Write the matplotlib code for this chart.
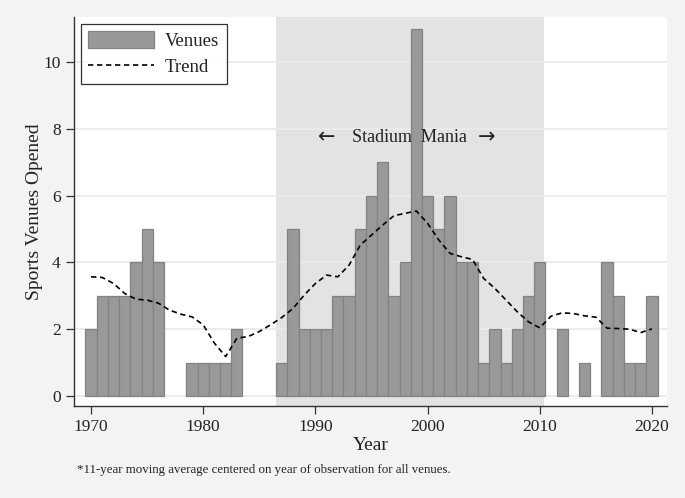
import matplotlib
matplotlib.use("Agg")
import matplotlib.pyplot as plt
from matplotlib.patches import Patch
from matplotlib.lines import Line2D

years = list(range(1970, 2021))
venues = [2, 3, 3, 3, 4, 5, 4, 0, 0, 1,
          1, 1, 1, 2, 0, 0, 0, 1, 5, 2,
          2, 2, 3, 3, 5, 6, 7, 3, 4, 11,
          6, 5, 6, 4, 4, 1, 2, 1, 2, 3,
          4, 0, 2, 0, 1, 0, 4, 3, 1, 1,
          3]
trend = [3.57, 3.55, 3.37, 3.07, 2.90, 2.87, 2.78, 2.57, 2.45, 2.37,
         2.13, 1.58, 1.18, 1.73, 1.78, 1.93, 2.13, 2.35, 2.62, 3.02,
         3.37, 3.62, 3.57, 3.92, 4.52, 4.82, 5.12, 5.40, 5.47, 5.54,
         5.17, 4.67, 4.27, 4.17, 4.09, 3.52, 3.22, 2.87, 2.52, 2.22,
         2.04, 2.39, 2.49, 2.47, 2.40, 2.36, 2.03, 2.02, 2.00, 1.90,
         2.01]
mania_start, mania_end = 1986.5, 2010.4
yticks = [0, 2, 4, 6, 8, 10]
xticks = [1970, 1980, 1990, 2000, 2010, 2020]

serif = ['Liberation Serif', 'DejaVu Serif']
plt.rcParams['font.family'] = serif

fig = plt.figure(figsize=(6.85, 4.98), dpi=100)
fig.patch.set_facecolor('#f3f3f3')
ax = fig.add_axes([74/685, 1-406/498, (667-74)/685, (406-17)/498])
ax.set_facecolor('white')

ax.axvspan(mania_start, mania_end, color='#e3e3e3', zorder=0, lw=0)
for t in yticks:
    ax.axhline(t, color='#ebebeb', lw=1.3, zorder=0.5)

bx = [y for y, v in zip(years, venues) if v > 0]
bv = [v for v in venues if v > 0]
ax.bar(bx, bv, width=1.0, color='#999999', edgecolor='#828282',
       linewidth=0.9, zorder=2)
ax.plot(years, trend, color='black', ls=(0, (3.2, 2.2)), lw=1.2, zorder=3)

ax.set_xlim(1968.48, 2021.34)
ax.set_ylim(-0.3, 11.35)
ax.set_xticks(xticks)
ax.set_yticks(yticks)
ax.tick_params(axis='both', labelsize=12.5, direction='out', length=6,
               width=0.9, colors='#333333', labelcolor='#222222')
for s in ['top', 'right']:
    ax.spines[s].set_visible(False)
for s in ['left', 'bottom']:
    ax.spines[s].set_color('#333333')
    ax.spines[s].set_linewidth(1.0)

ax.set_xlabel('Year', fontsize=14, color='#222222', labelpad=1)
ax.set_ylabel('Sports Venues Opened', fontsize=14, color='#222222', labelpad=0)

ymid = 7.75
ax.text(1991.0, ymid, '\u2190', ha='center', va='center', fontsize=15,
        family=['DejaVu Sans'], color='#222222', zorder=4)
ax.text(1998.35, ymid, 'Stadium  Mania', ha='center', va='center',
        fontsize=13, color='#222222', zorder=4)
ax.text(2005.25, ymid, '\u2192', ha='center', va='center', fontsize=15,
        family=['DejaVu Sans'], color='#222222', zorder=4)

handles = [Patch(facecolor='#999999', edgecolor='#828282', lw=0.9),
           Line2D([0], [0], color='black', ls=(0, (3.2, 2.2)), lw=1.2)]
leg = ax.legend(handles, ['Venues', 'Trend'], loc='upper left',
                bbox_to_anchor=(6.5/593, 1-7/389), fontsize=13.5,
                frameon=True, fancybox=False, edgecolor='black',
                handlelength=3.5, handleheight=0.95, borderpad=0.4,
                labelspacing=0.42, handletextpad=0.6, borderaxespad=0)
leg.get_frame().set_linewidth(0.9)
leg.get_frame().set_facecolor('white')
for t in leg.get_texts():
    t.set_color('#222222')

fig.text(77/685, 1-470/498,
         '*11-year moving average centered on year of observation for all venues.',
         fontsize=9.25, color='#222222', va='center', ha='left')

fig.savefig('out.png', dpi=100, facecolor=fig.get_facecolor())
